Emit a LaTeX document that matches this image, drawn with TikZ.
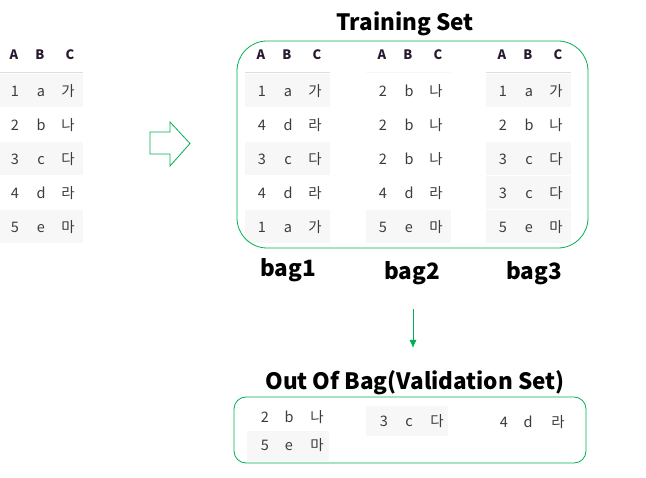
\documentclass[tikz,border=0pt]{standalone}
\usepackage{fontspec}
\setmainfont{Noto Sans CJK KR}
\usetikzlibrary{arrows.meta}
\definecolor{bagGreen}{RGB}{0,176,80}
\definecolor{rowGray}{RGB}{247,247,247}
\definecolor{lineGray}{RGB}{221,221,221}
\definecolor{cellText}{RGB}{60,60,60}
\definecolor{headText}{RGB}{40,24,48}
\tikzset{
 cell/.style={inner sep=0pt, anchor=base, text=cellText, font=\fontsize{14.5}{14.5}\selectfont},
 head/.style={inner sep=0pt, anchor=base, text=headText, font=\bfseries\fontsize{13}{13}\selectfont},
 title/.style={inner sep=0pt, anchor=base, font=\bfseries\fontsize{22.5}{22.5}\selectfont},
 setbox/.style={draw=bagGreen, line width=0.8pt},
}
\begin{document}
\begin{tikzpicture}[x=1pt,y=-1pt]
 \useasboundingbox (0,0) rectangle (646,478);
 % shaded rows of the tables
 \foreach \ox/\r in {0/1,0/3,0/5,247/1,247/3,247/5,368/5,488/1,488/3,488/4,488/5}
  \fill[rowGray] ({\ox-2},{74+34*(\r-1)}) rectangle ({\ox+83},{107+34*(\r-1)});
 \fill[rowGray](247,431) rectangle (329,461);
 \fill[rowGray](366,406) rectangle (448,436);
 % header rows
 \foreach \ox/\nm/\c in {0/L/lineGray,247/P/lineGray,368/Q/rowGray,488/R/lineGray}{
  \draw[\c,line width=1pt] ({\ox-2},73) -- ({\ox+83},73);
  \node[head] (\nm-A) at ({\ox+14},60) {A};
  \node[head] (\nm-B) at ({\ox+40},60) {B};
  \node[head] (\nm-C) at ({\ox+70},60) {C};
 }
 % table rows
 \foreach \ox/\nm/\rows in {0/L/{1/a/가,2/b/나,3/c/다,4/d/라,5/e/마},
   247/P/{1/a/가,4/d/라,3/c/다,4/d/라,1/a/가},
   368/Q/{2/b/나,2/b/나,2/b/나,4/d/라,5/e/마},
   488/R/{1/a/가,2/b/나,3/c/다,3/c/다,5/e/마}}
  \foreach \d/\l/\h [count=\i] in \rows {
   \node[cell] (\nm-\i-d) at ({\ox+15},{97+34*(\i-1)}) {\d};
   \node[cell] (\nm-\i-l) at ({\ox+41},{97+34*(\i-1)}) {\l};
   \node[cell] (\nm-\i-h) at ({\ox+68},{97+34*(\i-1)}) {\h};
  }
 % out of bag rows
 \node[cell] (O-1-d) at (265,423) {2}; \node[cell] (O-1-l) at (289,423) {b}; \node[cell] (O-1-h) at (317,423) {나};
 \node[cell] (O-2-d) at (265,451) {5}; \node[cell] (O-2-l) at (289,451) {e}; \node[cell] (O-2-h) at (317,451) {마};
 \node[cell] (O-3-d) at (384,427) {3}; \node[cell] (O-3-l) at (409,427) {c}; \node[cell] (O-3-h) at (437,427) {다};
 \node[cell] (O-4-d) at (504,428) {4}; \node[cell] (O-4-l) at (528,428) {d}; \node[cell] (O-4-h) at (558,428) {라};
 % boxes and titles
 \draw[setbox,rounded corners=30pt] (237,41) rectangle (588,248);
 \draw[setbox,rounded corners=12pt] (234,397) rectangle (586,463);
 \node[title] (train) at (405,31) {Training Set};
 \node[title] (bag1) at (288,277) {bag1};
 \node[title] (bag2) at (412,280) {bag2};
 \node[title] (bag3) at (534,280) {bag3};
 \node[title] (oob) at (415,390) {Out Of Bag(Validation Set)};
 % arrows
 \draw[setbox,line join=miter](150,132)--(170,132)--(170,122)--(190,143.5)--(170,166)--(170,154)--(150,154)--cycle;
 \coordinate (dn-top) at (413,309);
 \coordinate (dn-end) at (413,348);
 \draw[bagGreen,line width=0.8pt,-{Latex[length=8pt,width=7pt]}] (dn-top) -- (dn-end);
\end{tikzpicture}
\end{document}
